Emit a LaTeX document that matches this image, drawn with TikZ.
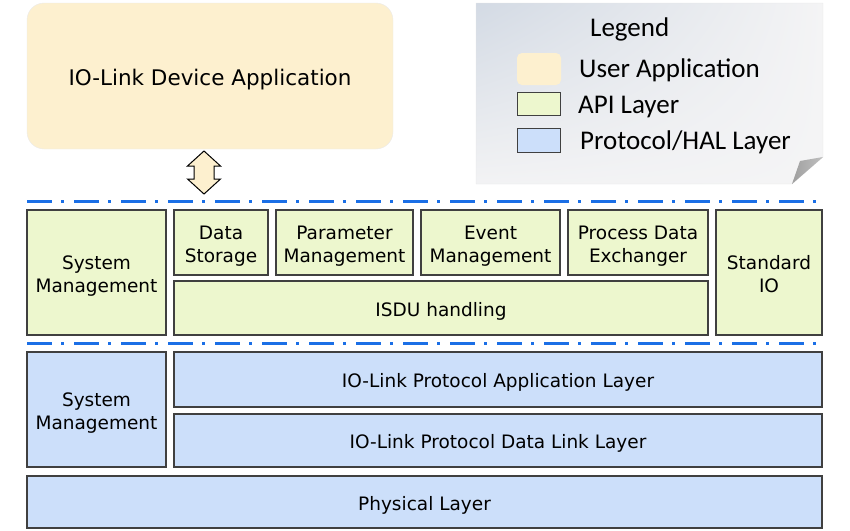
\documentclass[tikz,border=0pt]{standalone}
\usepackage{fontspec}
\setmainfont{DejaVu Sans}
\newfontfamily\legendfont{Carlito}
\usetikzlibrary{shadings}
\definecolor{appfill}{HTML}{FDF0CF}
\definecolor{apifill}{HTML}{EDF7CE}
\definecolor{halfill}{HTML}{CCDFFA}
\definecolor{boxline}{HTML}{404040}
\definecolor{sepline}{HTML}{1B6FE6}
\definecolor{legdark}{HTML}{D3DAE4}
\definecolor{leglight}{HTML}{F4F4F5}
\tikzset{
  layerbox/.style={draw=boxline,line width=1.5pt,align=center,inner sep=0pt,
    font=\fontsize{18.5}{23}\selectfont},
  oneline/.style={text height=16pt,text depth=0pt},
  twoline/.style={text height=39.6pt,text depth=0pt},
  apibox/.style={layerbox,fill=apifill},
  halbox/.style={layerbox,fill=halfill},
  sepdash/.style={sepline,line width=3pt,dash pattern=on 25pt off 9pt on 3pt off 10pt},
  legendtext/.style={inner sep=0pt,anchor=base west,font=\legendfont\fontsize{27}{30}\selectfont},
  swatch/.style={draw=boxline,line width=1pt,minimum width=43pt,minimum height=23pt,inner sep=0pt}
}

\begin{document}
\begin{tikzpicture}[x=1pt,y=-1pt]
            \useasboundingbox (0,0) rectangle (850,530);
            % user application
            \node[fill=appfill,draw=black!8,rounded corners=17pt,minimum width=366pt,minimum height=146pt,
              text height=18pt,text depth=0pt,font=\fontsize{21.5}{26}\selectfont] (app) at (210,76) {IO-Link Device Application};
            \draw[fill=appfill,line width=1pt] (204,151) -- (220.5,166) -- (214,166) -- (214,179) -- (220.5,179)
              -- (204,194) -- (187.5,179) -- (194,179) -- (194,166) -- (187.5,166) -- cycle;
            % legend
            \shade[upper left=legdark,lower left=leglight!95!legdark,upper right=leglight,lower right=leglight,
              draw=black!10] (476,3) -- (823,3) -- (823,157) -- (792,184) -- (476,184) -- cycle;
            \shade[left color=gray!75,right color=gray!50] (823,157) -- (800,161) -- (792,184) -- cycle;
            \node[legendtext] (legtitle) at (590,36) {Legend};
            \node[swatch,fill=appfill,draw=none,rounded corners=5pt,minimum width=44pt,minimum height=32pt] (keyapp) at (539,69) {};
            \node[swatch,fill=apifill] (keyapi) at (538.5,103.5) {};
            \node[swatch,fill=halfill,minimum height=24pt] (keyhal) at (539,140) {};
            \node[legendtext] (labapp) at (579,77) {User Application};
            \node[legendtext] (labapi) at (578,113) {API Layer};
            \node[legendtext] (labhal) at (580,149) {Protocol/HAL Layer};
            % separators
            \coordinate (sepAL) at (27,201);
            \coordinate (sepAR) at (822,201);
            \coordinate (sepBL) at (27,343);
            \coordinate (sepBR) at (822,343);
            \draw[sepdash] (sepAL) -- (sepAR);
            \draw[sepdash] (sepBL) -- (sepBR);
            % API layer
            \node[apibox,twoline,minimum width=139pt,minimum height=125pt] (sysapi) at (96.5,272.5) {System\\Management};
            \node[apibox,twoline,minimum width=94pt,minimum height=65pt] (storage) at (221,242.5) {Data\\Storage};
            \node[apibox,twoline,minimum width=137pt,minimum height=65pt] (param) at (344.5,242.5) {Parameter\\Management};
            \node[apibox,twoline,minimum width=139pt,minimum height=65pt] (event) at (490.5,242.5) {Event\\Management};
            \node[apibox,twoline,minimum width=140pt,minimum height=65pt] (pdx) at (638,242.5) {Process Data\\Exchanger};
            \node[apibox,twoline,minimum width=106pt,minimum height=125pt] (stdio) at (769,272.5) {Standard\\IO};
            \node[apibox,oneline,minimum width=534pt,minimum height=54pt] (isdu) at (441,308) {ISDU handling};
            % protocol / HAL layer
            \node[halbox,twoline,minimum width=139pt,minimum height=115pt] (syshal) at (96.5,409.5) {System\\Management};
            \node[halbox,oneline,minimum width=648pt,minimum height=55pt] (pal) at (498,379.5) {IO-Link Protocol Application Layer};
            \node[halbox,oneline,minimum width=648pt,minimum height=53pt] (dll) at (498,440.5) {IO-Link Protocol Data Link Layer};
            \node[halbox,oneline,minimum width=795pt,minimum height=52pt] (phy) at (424.5,502) {Physical Layer};
        \end{tikzpicture}
\end{document}
